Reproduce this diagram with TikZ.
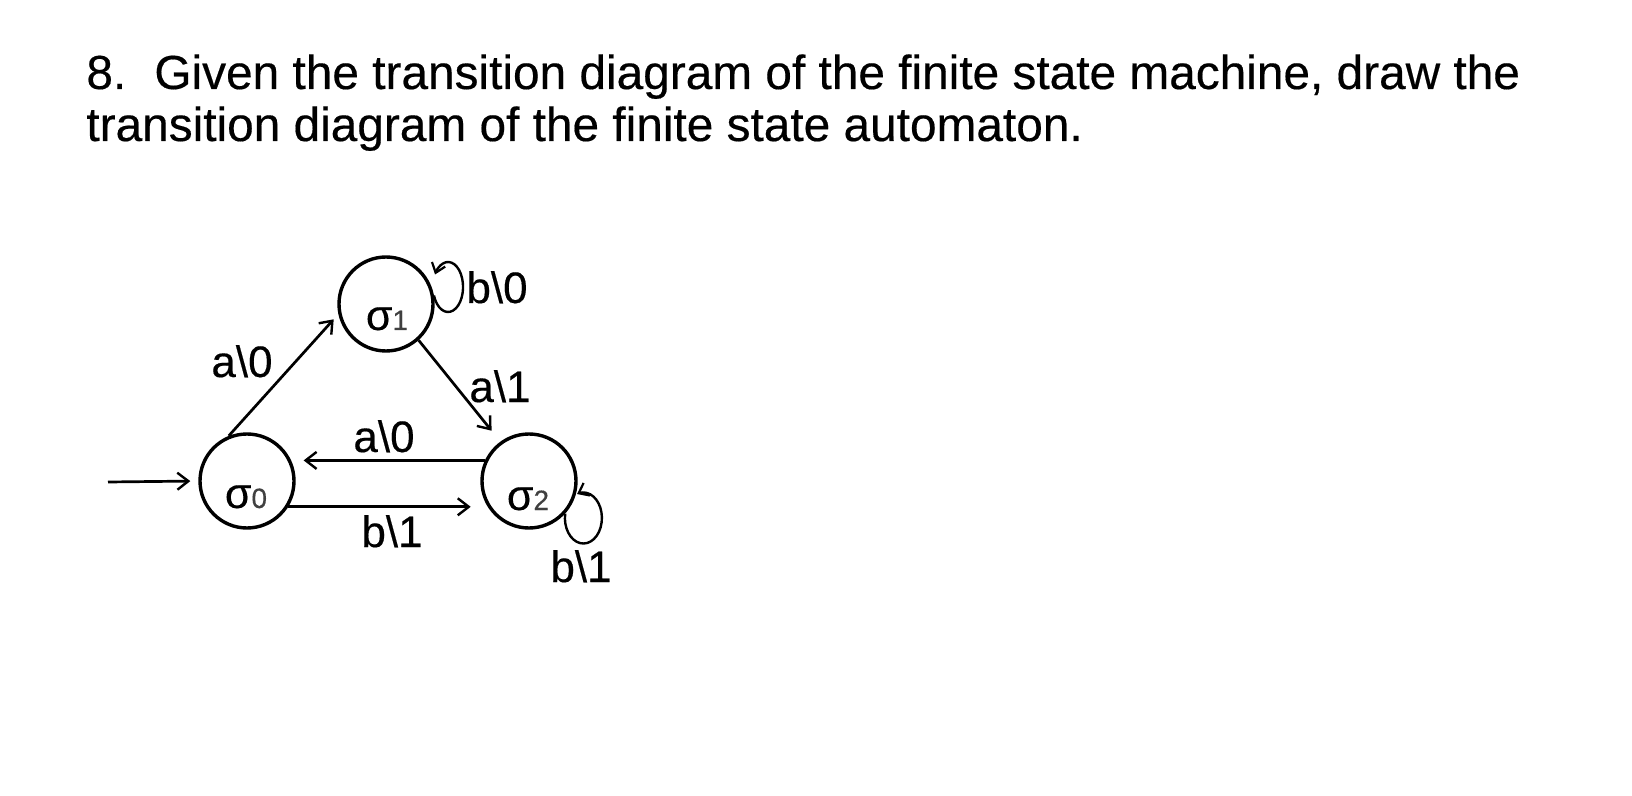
\documentclass[tikz,border=0pt]{standalone}
\usepackage{fontspec}
\setmainfont[FakeBold=0.35]{Liberation Sans}
\usetikzlibrary{arrows.meta,calc}
\begin{document}
\begin{tikzpicture}[x=0.5pt,y=-0.5pt,
  state/.style={circle,draw,line width=1.7pt,minimum size=47pt,inner sep=0pt},
  stname/.style={anchor=base,inner sep=0pt,font=\fontsize{21.5}{21.5}\selectfont},
  lbl/.style={anchor=base,inner sep=0pt,font=\fontsize{22}{22}\selectfont},
  edge/.style={line width=1.35pt,-{Straight Barb[length=5.5pt,width=8.5pt,line width=1.2pt]}},
  loopedge/.style={line width=1.2pt,-{Straight Barb[length=4.5pt,width=7pt,line width=1.1pt]}},
  titletext/.style={anchor=base west,inner sep=0pt,font=\fontsize{23.9}{27}\selectfont}]
\useasboundingbox (0,0) rectangle (1632,796);

\node[titletext] (t1) at (86,89) {\makebox[34pt][l]{8.}Given the transition diagram of the finite state machine, draw the};
\node[titletext] (t2) at (86,141) {transition diagram of the finite state automaton.};

\node[state] (s0) at (247,481) {};
\node[state] (s1) at (386,304) {};
\node[state] (s2) at (529,481) {};

\node[stname] (n0) at (246,508) {σ{\fontsize{14}{14}\selectfont\color{black!75}0}};
\node[stname] (n1) at (387,330) {σ{\fontsize{14}{14}\selectfont\color{black!75}1}};
\node[stname] (n2) at (528,510) {σ{\fontsize{14}{14}\selectfont\color{black!75}2}};

\coordinate (init) at (108,482);
\draw[edge,shorten >=4pt] (init) -- (s0.west);
\draw[edge,shorten >=3.5pt] (s0.112) -- (s1.192);
\draw[edge,shorten >=7pt] (s1.312) -- (s2.126);
\draw[edge,shorten >=6.25pt] (s2.155) -- (s0.25);
\draw[edge,shorten >=8.5pt] (s0.328) -- (s2.212);
\draw[loopedge] (s1.10) arc[start angle=200,end angle=510,x radius=7.5pt,y radius=12.5pt];
\draw[loopedge] (s2.318) arc[start angle=170,end angle=470,x radius=9.25pt,y radius=12.75pt];

\node[lbl] (l1) at (242,377) {a\textbackslash 0};
\node[lbl] (l2) at (500,402) {a\textbackslash 1};
\node[lbl] (l3) at (497,303) {b\textbackslash 0};
\node[lbl] (l4) at (384,452) {a\textbackslash 0};
\node[lbl] (l5) at (392,547) {b\textbackslash 1};
\node[lbl] (l6) at (581,582) {b\textbackslash 1};
\end{tikzpicture}
\end{document}
